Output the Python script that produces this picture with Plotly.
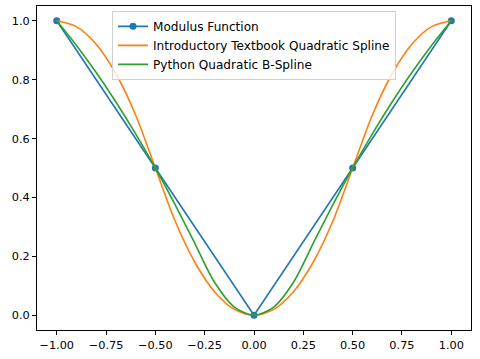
import plotly.graph_objects as go

# Modulus function data points
mod_x = [-1.0, -0.5, 0.0, 0.5, 1.0]
mod_y = [1.0, 0.5, 0.0, 0.5, 1.0]

# Sample positions for the spline curves
curve_x = [-1.0, -0.9, -0.8, -0.7, -0.6, -0.5, -0.4, -0.3, -0.2, -0.1, 0.0,
           0.1, 0.2, 0.3, 0.4, 0.5, 0.6, 0.7, 0.8, 0.9, 1.0]
textbook_y = [1.0, 0.98, 0.92, 0.82, 0.68, 0.5, 0.32, 0.18, 0.08, 0.02, 0.0,
              0.02, 0.08, 0.18, 0.32, 0.5, 0.68, 0.82, 0.92, 0.98, 1.0]
bspline_y = [1.0, 0.916, 0.824, 0.724, 0.616, 0.5, 0.376, 0.244, 0.112, 0.028, 0.0,
             0.028, 0.112, 0.244, 0.376, 0.5, 0.616, 0.724, 0.824, 0.916, 1.0]

x_ticks = [-1.0, -0.75, -0.5, -0.25, 0.0, 0.25, 0.5, 0.75, 1.0]
y_ticks = [0.0, 0.2, 0.4, 0.6, 0.8, 1.0]

names = ["Modulus Function", "Introductory Textbook Quadratic Spline", "Python Quadratic B-Spline"]
colors = ["#1f77b4", "#ff7f0e", "#2ca02c"]

fig = go.Figure()
fig.add_trace(go.Scatter(x=mod_x, y=mod_y, mode="lines+markers", name=names[0],
                         line=dict(color=colors[0], width=1.6),
                         marker=dict(color=colors[0], size=7)))
fig.add_trace(go.Scatter(x=curve_x, y=textbook_y, mode="lines", name=names[1],
                         line=dict(color=colors[1], width=1.6, shape="spline", smoothing=0.8)))
fig.add_trace(go.Scatter(x=curve_x, y=bspline_y, mode="lines", name=names[2],
                         line=dict(color=colors[2], width=1.6, shape="spline", smoothing=0.8)))

axis_common = dict(showgrid=False, zeroline=False, showline=True, mirror=True,
                   linecolor="black", linewidth=1, ticks="outside", ticklen=4,
                   tickcolor="black", tickwidth=1, automargin=False,
                   tickfont=dict(family="DejaVu Sans", size=11.3, color="black"))

fig.update_layout(
    width=480, height=359,
    margin=dict(l=37, r=9, t=6, b=29),
    paper_bgcolor="white", plot_bgcolor="white",
    font=dict(family="DejaVu Sans", size=11.3, color="black"),
    xaxis=dict(range=[-1.1, 1.1], tickvals=x_ticks, tickformat=".2f", **axis_common),
    yaxis=dict(range=[-0.05, 1.05], tickvals=y_ticks, tickformat=".1f", **axis_common),
    legend=dict(x=0.5, xanchor="center", y=0.985, yanchor="top",
                bgcolor="rgba(255,255,255,0.8)", bordercolor="#d0d0d0", borderwidth=1,
                font=dict(family="DejaVu Sans", size=12.1, color="black"),
                tracegroupgap=0, itemwidth=30),
    showlegend=True,
)

fig.write_html("out.html", config={"displayModeBar": False},
               post_script="document.body.style.margin='0';")
